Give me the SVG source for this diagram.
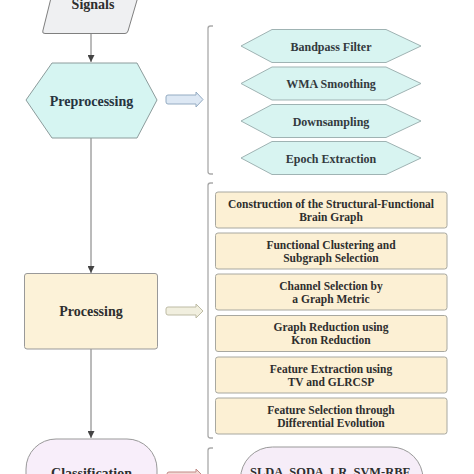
<svg xmlns="http://www.w3.org/2000/svg" width="474" height="474" viewBox="0 0 474 474">
<defs>
<marker id="ah" viewBox="0 0 10 10" refX="10" refY="5" markerWidth="7" markerHeight="7" markerUnits="userSpaceOnUse" orient="auto">
<path d="M0,0 L10,5 L0,10 Z" fill="#444"/>
</marker>
</defs>
<style>
text{font-family:"Liberation Serif","Times New Roman",serif;font-weight:bold;text-anchor:middle;fill:#2e2e2e}
.big{font-size:14px}
.hx{font-size:12px;fill:#333a3e}
.bx{font-size:11.5px}
.conn{stroke:#777;stroke-width:1;fill:none}
.brk{stroke:#aaaaaa;stroke-width:1.3;fill:none}
.hexs{fill:#d8f4f1;stroke:#9fb3b3;stroke-width:1}
.ybox{fill:#fcf0d4;stroke:#a8a8a0;stroke-width:1}
</style>
<rect width="474" height="474" fill="#ffffff"/>

<g id="connectors">
<line class="conn" x1="91" y1="34" x2="91" y2="62" marker-end="url(#ah)"/>
<line class="conn" x1="91" y1="138" x2="91" y2="273" marker-end="url(#ah)"/>
<line class="conn" x1="91" y1="349" x2="91" y2="438" marker-end="url(#ah)"/>
<path d="M168,95 H196 V92 L203,99.5 L196,107 V104 H168 Q166,104 166,102 V97 Q166,95 168,95 Z" fill="#dde8f4" stroke="#94abc2" stroke-width="1"/>
<path d="M168,307 H196 V304 L203,311 L196,318 V315 H168 Q166,315 166,313 V309 Q166,307 168,307 Z" fill="#f1efdf" stroke="#bdbba4" stroke-width="1"/>
<path d="M169,472 H196 V469 L203,476 L196,483 V480 H169 Q167,480 167,478 V474 Q167,472 169,472 Z" fill="#f3d9d6" stroke="#c28a86" stroke-width="1"/>
<path class="brk" d="M213,26 H210.5 Q208,26 208,28.5 V171.5 Q208,174 210.5,174 H213"/>
<path class="brk" d="M213,183 H210.5 Q208,183 208,185.5 V435.5 Q208,438 210.5,438 H213"/>
<path class="brk" d="M213,448 H210.5 Q208,448 208,450.5 V480"/>
</g>

<g id="signals">
<path d="M53,-10 H140 L128,31 Q127.3,33.5 125,33.5 H45 Q42,33.5 42.8,31 Z" fill="#eff0f2" stroke="#7f7f7f" stroke-width="1"/>
<text class="big" x="93" y="8.5">Signals</text>
</g>

<g id="preprocessing">
<polygon points="26,100 52,63 137,63 157,100 137,138 52,138" fill="#d6f5f2" stroke="#8c9c9c" stroke-width="1" stroke-linejoin="round"/>
<text class="big" x="91.5" y="105.5" style="fill:#26333f">Preprocessing</text>
</g>

<g id="bandpass">
<polygon class="hexs" points="241,46 272,29.5 386,29.5 421,46 386,62.5 272,62.5"/>
<text class="hx" x="331" y="50.5">Bandpass Filter</text>
</g>
<g id="wma">
<polygon class="hexs" points="241,83.5 272,67 386,67 421,83.5 386,100 272,100"/>
<text class="hx" x="331" y="88">WMA Smoothing</text>
</g>
<g id="downsampling">
<polygon class="hexs" points="241,121 272,104.5 386,104.5 421,121 386,137.5 272,137.5"/>
<text class="hx" x="331" y="125.5">Downsampling</text>
</g>
<g id="epoch">
<polygon class="hexs" points="241,158 272,141.5 386,141.5 421,158 386,174.5 272,174.5"/>
<text class="hx" x="331" y="162.5">Epoch Extraction</text>
</g>

<g id="processing">
<rect x="24.5" y="273.5" width="133" height="75.5" rx="2.5" fill="#fcf2d8" stroke="#999" stroke-width="1"/>
<text class="big" x="91" y="316">Processing</text>
</g>

<g id="box1">
<rect class="ybox" x="215.5" y="192" width="231.5" height="36" rx="2.5"/>
<text class="bx" x="331" y="207.5">Construction of the Structural-Functional</text>
<text class="bx" x="331" y="220.5">Brain Graph</text>
</g>
<g id="box2">
<rect class="ybox" x="215.5" y="233" width="231.5" height="36" rx="2.5"/>
<text class="bx" x="331" y="248.5">Functional Clustering and</text>
<text class="bx" x="331" y="261.5">Subgraph Selection</text>
</g>
<g id="box3">
<rect class="ybox" x="215.5" y="274" width="231.5" height="36" rx="2.5"/>
<text class="bx" x="331" y="289.5">Channel Selection by</text>
<text class="bx" x="331" y="302.5">a Graph Metric</text>
</g>
<g id="box4">
<rect class="ybox" x="215.5" y="315.5" width="231.5" height="36" rx="2.5"/>
<text class="bx" x="331" y="331">Graph Reduction using</text>
<text class="bx" x="331" y="344">Kron Reduction</text>
</g>
<g id="box5">
<rect class="ybox" x="215.5" y="357" width="231.5" height="36" rx="2.5"/>
<text class="bx" x="331" y="372.5">Feature Extraction using</text>
<text class="bx" x="331" y="385.5">TV and GLRCSP</text>
</g>
<g id="box6">
<rect class="ybox" x="215.5" y="398" width="231.5" height="36" rx="2.5"/>
<text class="bx" x="331" y="413.5">Feature Selection through</text>
<text class="bx" x="331" y="426.5">Differential Evolution</text>
</g>

<g id="classification">
<rect x="26" y="439" width="131" height="80" rx="30" fill="#f8eefa" stroke="#999" stroke-width="1"/>
<text class="big" x="91.5" y="478">Classification</text>
</g>

<g id="classifiers">
<rect x="240.5" y="447" width="182.5" height="70" rx="32" fill="#f6edf8" stroke="#999" stroke-width="1"/>
<text x="331" y="475.5" style="font-size:13px" textLength="162" lengthAdjust="spacingAndGlyphs">SLDA, SODA, LR, SVM-RBF,</text>
</g>
</svg>
